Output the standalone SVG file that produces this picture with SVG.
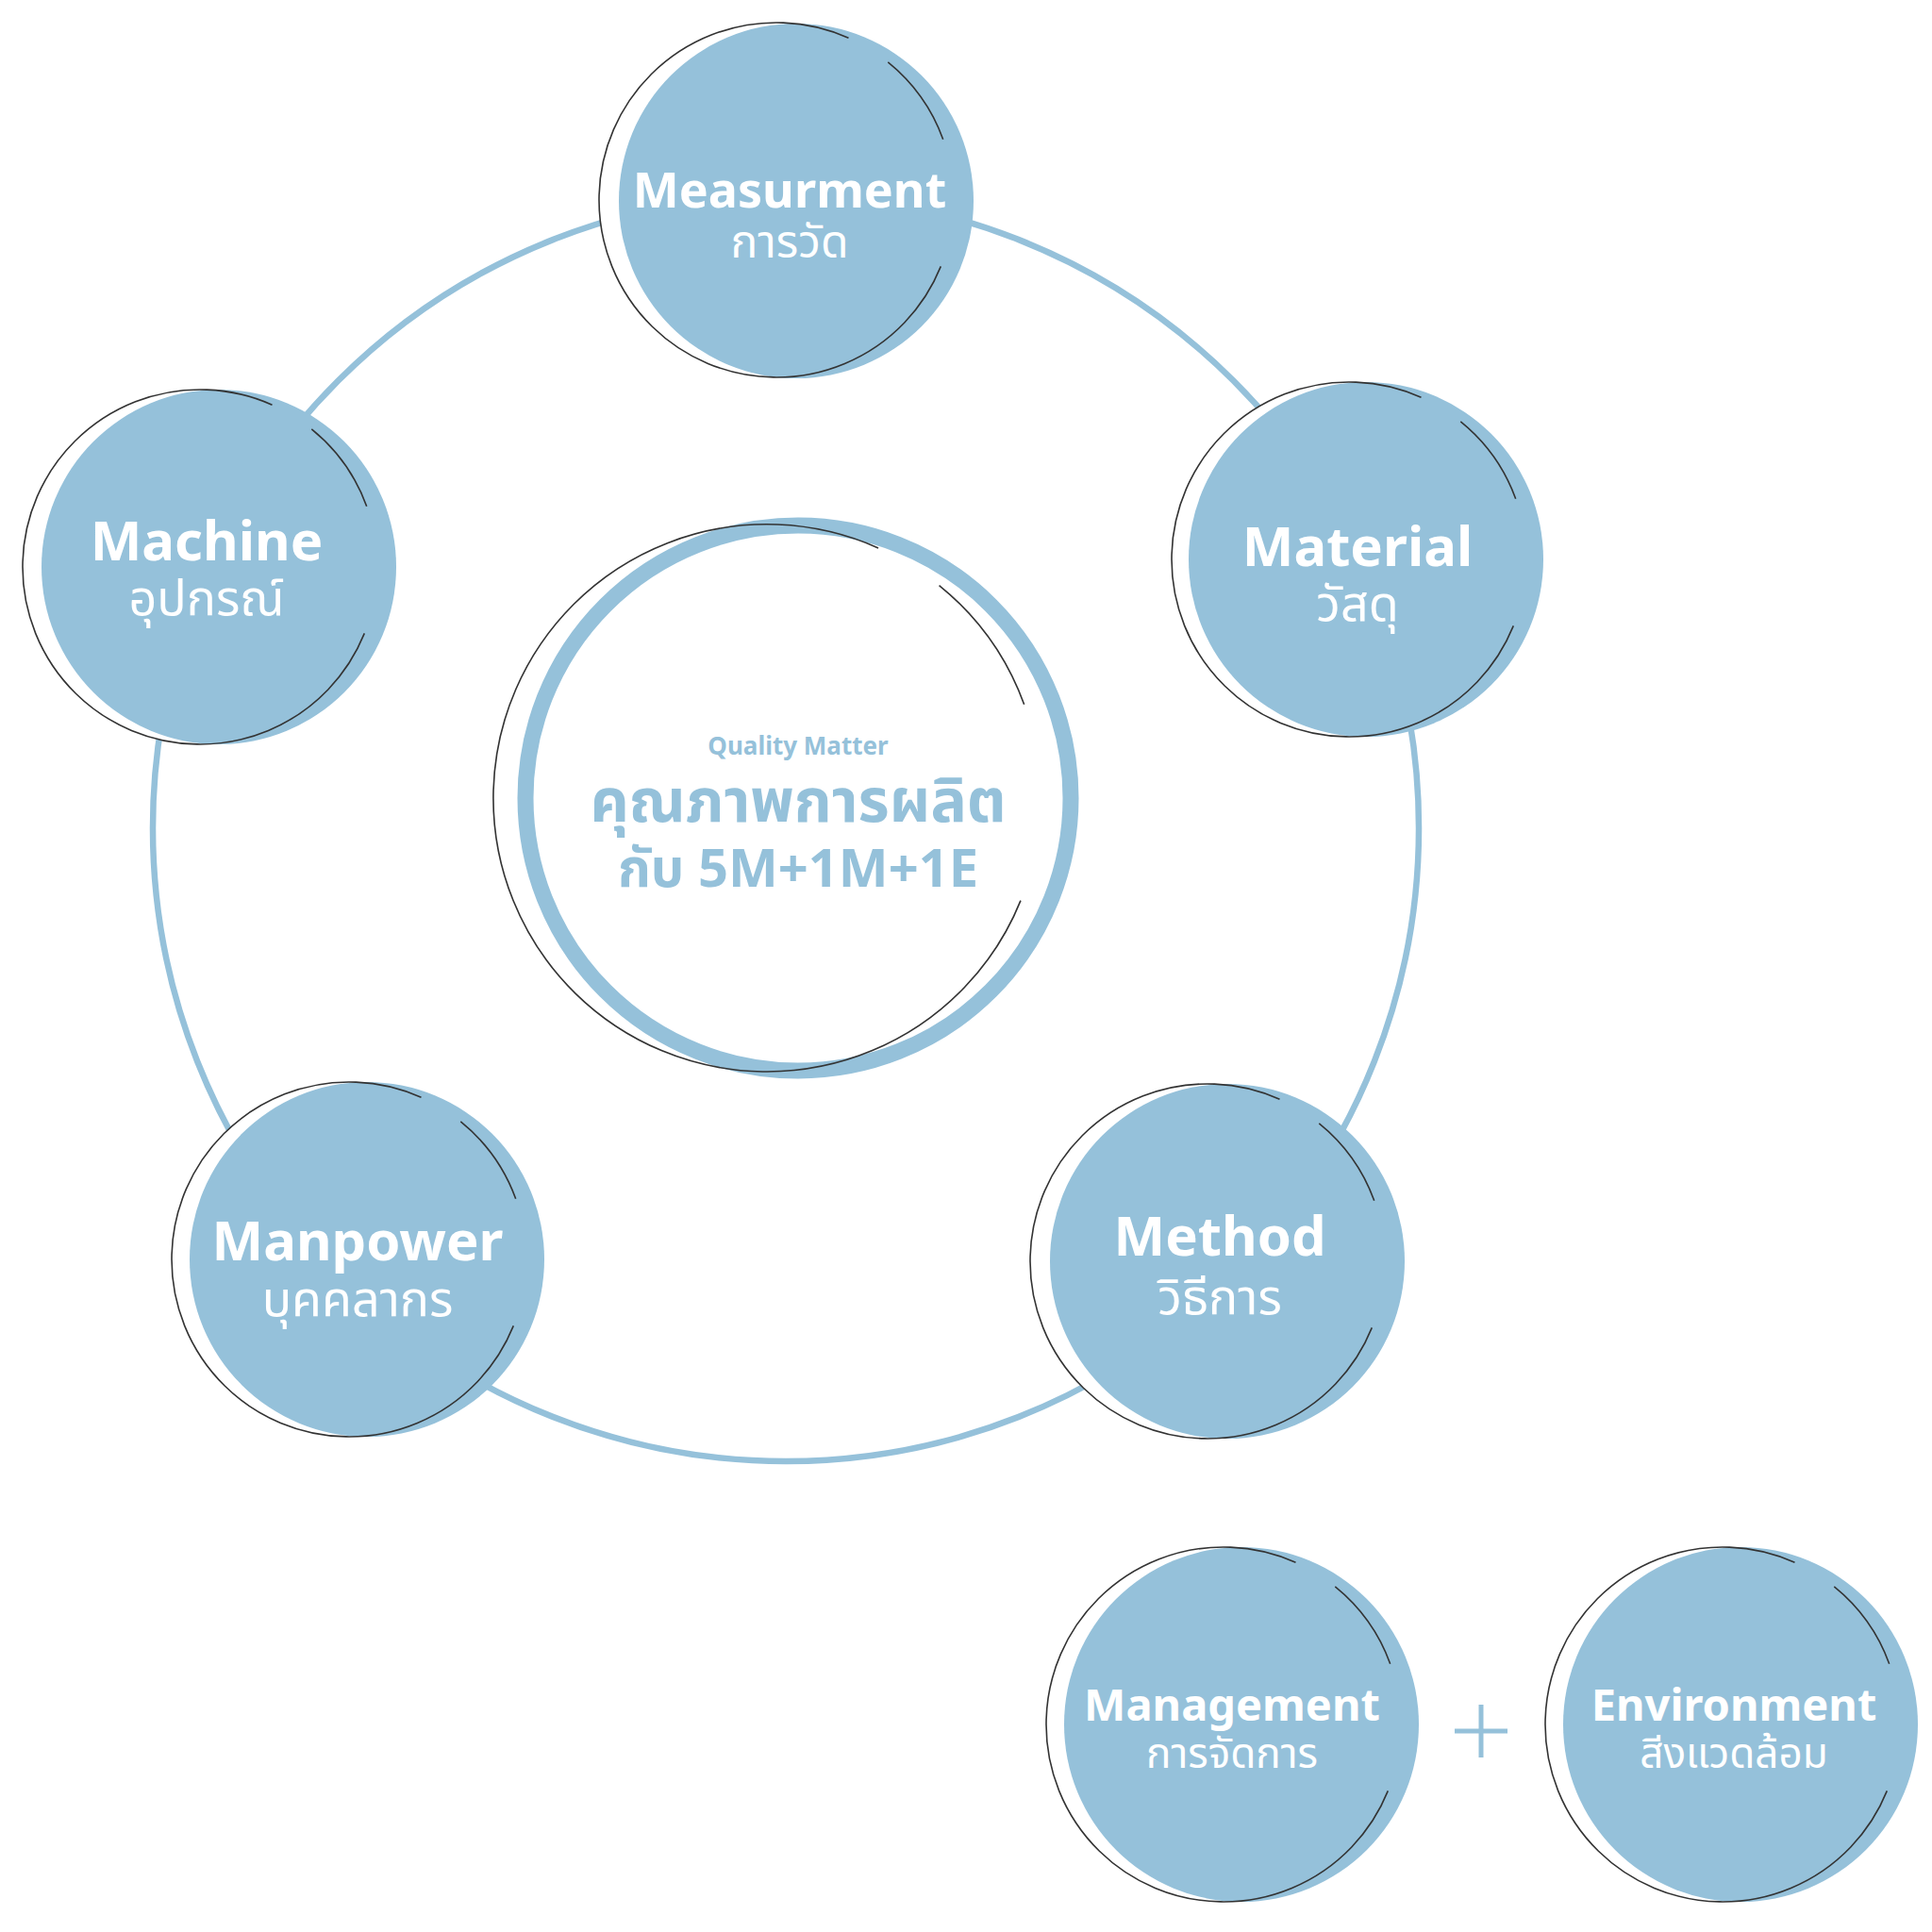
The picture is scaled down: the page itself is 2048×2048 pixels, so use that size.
<svg xmlns="http://www.w3.org/2000/svg" width="2048" height="2048" viewBox="0 0 2048 2048">
<style>
.fill{fill:#95c1da}
.bg{fill:#fff}
.ol{fill:none;stroke:#333;stroke-width:1.6}
.en{font-family:"Noto Sans","Liberation Sans",sans-serif;font-weight:bold;fill:#fff;text-anchor:middle}
.th{font-family:"Noto Sans","Noto Sans Thai","Liberation Sans",sans-serif;fill:#fff;text-anchor:middle}
.ct{font-family:"Noto Sans","Noto Sans Thai","Liberation Sans",sans-serif;font-weight:bold;fill:#95c1da;text-anchor:middle}
</style>
<defs>
<g id="ring">
<path d="M76.5 -171.8 A188 188 0 1 0 174.3 70.4"/>
<path d="M118.3 -146.1 A188 188 0 0 1 176.7 -64.3"/>
</g>
</defs>
<g id="connectors">
<circle cx="833" cy="878" r="671" fill="none" stroke="#95c1da" stroke-width="6.5"/>
</g>
<g id="center">
<circle cx="813" cy="846" r="290" class="bg"/>
<circle cx="846" cy="846" r="289" fill="#fff" stroke="#95c1da" stroke-width="17"/>
<use href="#ring" class="ol" transform="translate(813 846) scale(1.543)" style="stroke-width:1.05"/>
<text x="846" y="800" class="ct" font-size="26">Quality Matter</text>
<text x="846" y="871" class="ct" font-size="64">คุณภาพการผลิต</text>
<text x="846" y="940" class="ct" font-size="56">กับ 5M+1M+1E</text>
</g>
<g id="measurement">
<circle cx="823" cy="212" r="188" class="bg"/><circle cx="844" cy="213" r="188" class="fill"/>
<use href="#ring" class="ol" transform="translate(823 212)"/>
<text x="837" y="220" class="en" font-size="52">Measurment</text>
<text x="837" y="273" class="th" font-size="48">การวัด</text>
</g>
<g id="machine">
<circle cx="212" cy="601" r="188" class="bg"/><circle cx="232" cy="601" r="188" class="fill"/>
<use href="#ring" class="ol" transform="translate(212 601)"/>
<text x="219" y="594" class="en" font-size="58">Machine</text>
<text x="219" y="652" class="th" font-size="52">อุปกรณ์</text>
</g>
<g id="material">
<circle cx="1430" cy="593" r="188" class="bg"/><circle cx="1448" cy="593" r="188" class="fill"/>
<use href="#ring" class="ol" transform="translate(1430 593)"/>
<text x="1439" y="600" class="en" font-size="58">Material</text>
<text x="1439" y="658" class="th" font-size="52">วัสดุ</text>
</g>
<g id="manpower">
<circle cx="370" cy="1335" r="188" class="bg"/><circle cx="389" cy="1335" r="188" class="fill"/>
<use href="#ring" class="ol" transform="translate(370 1335)"/>
<text x="379" y="1336" class="en" font-size="58">Manpower</text>
<text x="379" y="1395" class="th" font-size="52">บุคคลากร</text>
</g>
<g id="method">
<circle cx="1280" cy="1337" r="188" class="bg"/><circle cx="1301" cy="1337" r="188" class="fill"/>
<use href="#ring" class="ol" transform="translate(1280 1337)"/>
<text x="1293" y="1331" class="en" font-size="58">Method</text>
<text x="1293" y="1393" class="th" font-size="52">วิธีการ</text>
</g>
<g id="management">
<circle cx="1297" cy="1828" r="188" class="bg"/><circle cx="1316" cy="1828" r="188" class="fill"/>
<use href="#ring" class="ol" transform="translate(1297 1828)"/>
<text x="1306" y="1824" class="en" font-size="47">Management</text>
<text x="1306" y="1874" class="th" font-size="44">การจัดการ</text>
</g>
<g id="plus">
<path d="M1542 1835 H1598 M1570 1807 V1863" stroke="#95c1da" stroke-width="5" fill="none"/>
</g>
<g id="environment">
<circle cx="1826" cy="1828" r="188" class="bg"/><circle cx="1845" cy="1828" r="188" class="fill"/>
<use href="#ring" class="ol" transform="translate(1826 1828)"/>
<text x="1838" y="1824" class="en" font-size="47">Environment</text>
<text x="1838" y="1874" class="th" font-size="44">สีงแวดล้อม</text>
</g>
</svg>
